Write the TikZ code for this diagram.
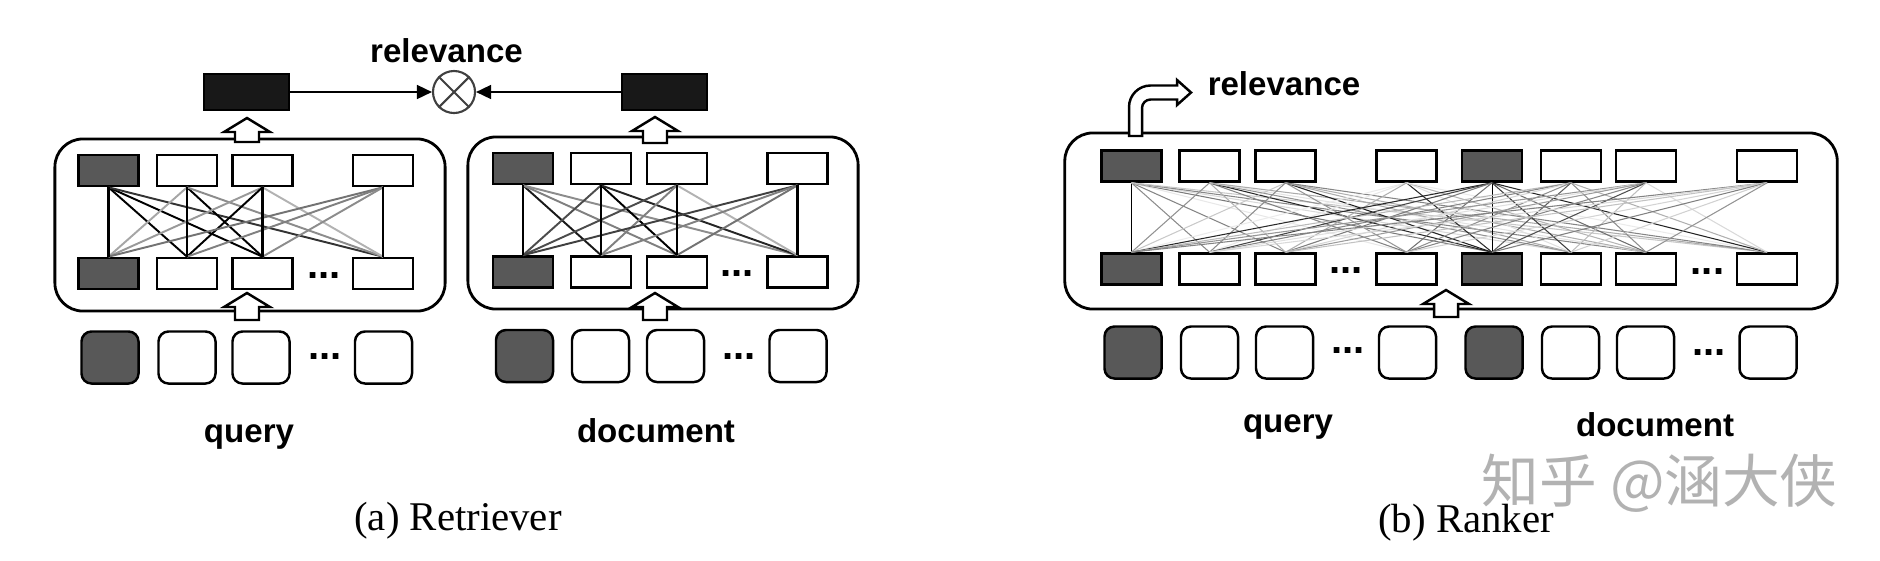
\documentclass[tikz,border=0pt]{standalone}
\usepackage{fontspec}
\setmainfont{Liberation Serif}
\setsansfont{Liberation Sans}
\newfontfamily\cjkfont{Noto Sans CJK SC}
\usetikzlibrary{arrows.meta}

\definecolor{clsgray}{RGB}{88,88,88}
\definecolor{outblack}{RGB}{24,24,24}

\begin{document}
\begin{tikzpicture}[x=0.01cm, y=-0.01cm,
	cell/.style={draw, line width=0.75pt, fill=white, minimum width=0.6cm, minimum height=0.31cm, inner sep=0pt},
	clscell/.style={cell, fill=clsgray},
	outcell/.style={cell, fill=outblack, minimum width=0.85cm, minimum height=0.36cm},
	token/.style={draw, line width=0.7pt, fill=white, rounded corners=0.1cm, minimum width=0.57cm, minimum height=0.52cm, inner sep=0pt},
	clstoken/.style={token, fill=clsgray},
	encoder/.style={draw, line width=0.8pt, rounded corners=0.28cm, inner sep=0pt},
	dots/.style={font=\sffamily\bfseries\fontsize{11.4}{12}\selectfont, inner sep=0pt},
	word/.style={font=\sffamily\bfseries\fontsize{9.4}{10}\selectfont, inner sep=0pt, anchor=base},
	caption/.style={font=\fontsize{11.6}{12}\selectfont, inner sep=0pt, anchor=base},
	blockarrow/.style={draw, line width=0.7pt, fill=white},
	link/.style={line width=0.55pt},
	rlink/.style={line width=0.3pt}
]
\useasboundingbox (0,0) rectangle (1880,560);

% (a) retriever, query side
\node[encoder, minimum width=3.9cm, minimum height=1.72cm] (qenc) at (250,225) {};
\foreach \n/\x/\s in {1/108.5/clscell, 2/187/cell, 3/262.5/cell, 4/383/cell} {
	\node[\s] (qt\n) at (\x,170.5) {};
	\node[\s] (qb\n) at (\x,273.5) {};
}
\node[dots] (qdots) at (324,276) {...};
\foreach \i/\j/\c in {1/1/black, 1/2/black, 1/3/black, 1/4/black!80,
	2/1/black!35, 2/2/black, 2/3/black, 2/4/black!45,
	3/1/black!40, 3/2/black, 3/3/black, 3/4/black!30,
	4/1/black!55, 4/2/black!50, 4/3/black!45, 4/4/black}
	\draw[link, \c] (qt\i.south) -- (qb\j.north);
\foreach \n in {1,...,4}
	\draw[line width=0.8pt] (qt\n.south) -- (qb\n.north);

% (a) retriever, document side
\node[encoder, minimum width=3.9cm, minimum height=1.72cm] (denc) at (663,223) {};
\foreach \n/\x/\s in {1/523/clscell, 2/601/cell, 3/677/cell, 4/797.5/cell} {
	\node[\s] (dt\n) at (\x,168.5) {};
	\node[\s] (db\n) at (\x,272) {};
}
\node[dots] (ddots) at (737,274) {...};
\foreach \i/\j/\c in {1/1/black, 1/2/black!90, 1/3/black!50, 1/4/black!45,
	2/1/black!70, 2/2/black, 2/3/black, 2/4/black!85,
	3/1/black!70, 3/2/black!50, 3/3/black, 3/4/black!30,
	4/1/black!75, 4/2/black!50, 4/3/black!55, 4/4/black}
	\draw[link, \c] (dt\i.south) -- (db\j.north);
\foreach \n in {1,...,4}
	\draw[line width=0.8pt] (dt\n.south) -- (db\n.north);

% outputs and relevance
\node[outcell] (qout) at (246.5,92) {};
\node[outcell] (dout) at (664.5,92) {};
\node[circle, draw=black!75, line width=0.6pt, fill=white, minimum size=0.42cm, inner sep=0pt] (score) at (454,92) {};
\draw[black!75, line width=0.6pt] (score.45) -- (score.225) (score.135) -- (score.315);
\draw[line width=0.45pt, -{Triangle[length=1.5mm, width=1.4mm]}] (qout) -- (score);
\draw[line width=0.45pt, -{Triangle[length=1.5mm, width=1.4mm]}] (dout) -- (score);
\node[word] (qrel) at (446.5,62) {relevance};

% input tokens
\foreach \n/\x/\s in {1/110/clstoken, 2/187/token, 3/261/token, 4/383.5/token}
	\node[\s] (qk\n) at (\x,357.5) {};
\node[dots] (qkdots) at (325,357) {...};
\foreach \n/\x/\s in {1/524.5/clstoken, 2/600.5/token, 3/675.5/token, 4/798/token}
	\node[\s] (dk\n) at (\x,356) {};
\node[dots] (dkdots) at (739,356) {...};
\node[word] (qlabel) at (249,442) {query};
\node[word] (dlabel) at (656,442) {document};

% (b) ranker
\node[encoder, minimum width=7.72cm, minimum height=1.76cm] (renc) at (1451,221) {};
\foreach \n/\x/\s in {1/1131.5/clscell, 2/1209.5/cell, 3/1285.5/cell, 4/1406.5/cell,
	5/1492/clscell, 6/1571/cell, 7/1646/cell, 8/1767/cell} {
	\node[\s] (rt\n) at (\x,166) {};
	\node[\s] (rb\n) at (\x,269) {};
}
\node[dots] (rqdots) at (1346,271) {...};
\node[dots] (rddots) at (1707.5,272) {...};
\pgfmathsetseed{12}
\foreach \i in {1,...,8}
	\foreach \j in {1,...,8} {
		\pgfmathtruncatemacro\shade{(\i==5 || \j==5) ? 50+40*rnd : 8+42*rnd}
		\pgfmathtruncatemacro\nolink{(\i==\j && \i!=1 && \i!=5) ? 1 : 0}
		\ifnum\i=\j \def\shade{100}\fi
		\ifnum\nolink=0 \draw[rlink, black!\shade] (rt\i.south) -- (rb\j.north);\fi
	}
\foreach \n/\x/\s in {1/1133/clstoken, 2/1209.5/token, 3/1284.5/token, 4/1407.5/token,
	5/1494/clstoken, 6/1570.5/token, 7/1645.5/token, 8/1768/token}
	\node[\s] (rk\n) at (\x,352.5) {};
\node[dots] (rkqdots) at (1348,351) {...};
\node[dots] (rkddots) at (1709,352) {...};
\node[word] (rqlabel) at (1288,432) {query};
\node[word] (rdlabel) at (1655,436) {document};
\node[word] (rrel) at (1284,95) {relevance};

% block arrows
\foreach \x/\yt/\yb in {247/118/142, 655/117/143, 247/293/320, 655/293/320, 1446/290/317}
	\draw[blockarrow] (\x,\yt) -- ++(23,14) -- ++(-11,0) -- (\x+12,\yb)
		-- (\x-12,\yb) -- (\x-12,\yt+14) -- ++(-11,0) -- cycle;
\draw[blockarrow] (1129,136) -- (1129,107) arc[start angle=180, end angle=270, radius=21.5]
	-- (1177,85.5) -- (1177,80) -- (1191,92.5) -- (1177,105) -- (1177,99.5) -- (1150.5,99.5)
	arc[start angle=270, end angle=180, radius=8.5] -- (1142,136) -- cycle;

% captions
\node[font=\cjkfont\fontsize{16.4}{16}\selectfont, text=black!30, anchor=base west, inner sep=0pt] (mark) at (1481,502) {知乎 @涵大侠};
\node[caption] (capa) at (458,530) {(a) Retriever};
\node[caption] (capb) at (1466,532) {(b) Ranker};
\end{tikzpicture}
\end{document}
